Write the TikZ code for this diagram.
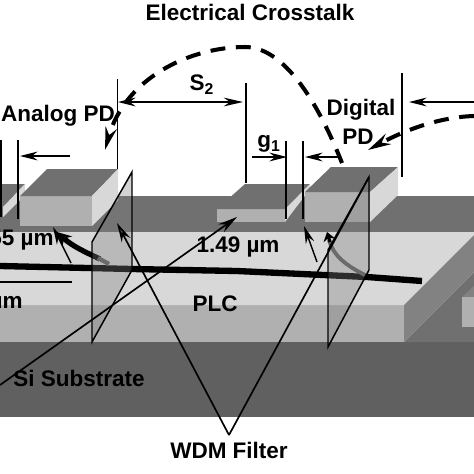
\documentclass[tikz,border=0pt]{standalone}
\usepackage{fontspec}
\setmainfont{Liberation Sans}
\usetikzlibrary{positioning,arrows.meta,calc}
\definecolor{subgray}{RGB}{96, 96, 96}
\definecolor{frontgray}{RGB}{176, 176, 176}
\definecolor{topgray}{RGB}{216, 216, 216}
\definecolor{bandgray}{RGB}{112, 112, 112}
\definecolor{sidegray}{RGB}{130, 130, 130}
\tikzset{
  label/.style={font=\bfseries\fontsize{12.8}{15}\selectfont, inner sep=0pt},
  dimline/.style={line width=0.8pt},
  dimarrow/.style={line width=0.8pt, -{Stealth[length=10pt,width=5pt]}},
  pointer/.style={line width=0.95pt},
  crosstalk/.style={line width=2.3pt, dash pattern=on 8.5pt off 6pt, -{Stealth[length=13pt,width=6.5pt]}},
  filterplane/.style={fill=gray, fill opacity=0.35},
}
\begin{document}
\begin{tikzpicture}[x=0.02cm, y=-0.02cm]
    \useasboundingbox (0,0) rectangle (474,474);

    % substrate and PLC
    \fill[subgray] (0,342) rectangle (474,417);
    \fill[frontgray] (0,305) rectangle (404,342);
    \fill[topgray] (0,232) -- (474,232) -- (474,235) -- (404,305) -- (0,305) -- cycle;
    \fill[bandgray] (0,196) rectangle (474,232);
    \fill[bandgray] (404,342) -- (474,272) -- (474,342) -- cycle;
    \fill[sidegray] (404,305) -- (474,235) -- (474,272) -- (404,342) -- cycle;
    \fill[sidegray] (462,297) -- (474,286) -- (474,297) -- cycle;
    \fill[frontgray] (462,297) rectangle (474,327);

    % left pad
    \fill[bandgray] (0,184) -- (25,184) -- (3,207) -- (0,207) -- cycle;
    \fill[topgray] (25,184) -- (25,195) -- (3,217) -- (3,207) -- cycle;
    % analog PD
    \fill[frontgray] (20,196) rectangle (92,226);
    \fill[bandgray] (20,196) -- (47,169) -- (118,169) -- (92,196) -- cycle;
    \fill[topgray] (92,196) -- (118,169) -- (118,200) -- (92,226) -- cycle;
    % middle pad
    \fill[frontgray] (217,209) rectangle (285,222);
    \fill[bandgray] (217,209) -- (245,184) -- (310,184) -- (285,209) -- cycle;
    \fill[topgray] (285,209) -- (310,184) -- (310,189) -- (285,222) -- cycle;
    % digital PD
    \fill[frontgray] (305,192) rectangle (370,222);
    \fill[bandgray] (305,192) -- (331,167) -- (398,167) -- (370,192) -- cycle;
    \fill[topgray] (370,192) -- (398,167) -- (398,195) -- (370,222) -- cycle;

    % waveguide
    \draw[line width=3.6pt] (0,266) -- (132,269) -- (237,271) -- (367,277) -- (422,281);
    \draw[line width=3pt, -{Stealth[length=8pt,width=8pt]}] (100,259) .. controls (85,252) and (72,246) .. (57,232);
    \draw[line width=2.4pt, subgray] (98,258) -- (109,264);
    \draw[line width=2.2pt, subgray] (365,275) .. controls (345,265) and (333,255) .. (329,240);
    \draw[line width=1.8pt, -{Stealth[length=5pt,width=7pt]}] (330,242) -- (327,232);
    \draw[dimarrow] (317,262) -- (304,226);
    \draw[dimarrow] (71,263) -- (53,227);
    \draw[line width=0.85pt] (0,282) -- (72,282);

    % filters
    \coordinate (lefttop) at (132,172);
    \coordinate (righttop) at (369,177);
    \coordinate (apex) at (229,435);
    \filldraw[filterplane, line width=0.85pt, draw=black, draw opacity=1] (lefttop) -- (92,242) -- (92,342) -- (132,270) -- cycle;
    \filldraw[filterplane, line width=0.85pt, draw=black, draw opacity=1] (righttop) -- (328,250) -- (328,347) -- (369,270) -- cycle;
    \draw[pointer] (righttop) -- (apex);
    \draw[pointer, -{Stealth[length=11pt,width=5.5pt,fill=subgray]}] (apex) -- (117,223);

    % dimension lines
    \draw[dimline, line width=1.1pt] (1,140) -- (1,217);
    \draw[dimline] (18,140) -- (18,219);
    \draw[dimarrow] (70,156) -- (20,156);
    \draw[dimline] (117.5,79) -- (117.5,169);
    \draw[dimline] (246,83) -- (246,183);
    \draw[dimarrow, {Stealth[length=10pt,width=5pt]}-{Stealth[length=11pt,width=5pt]}] (118,102) -- (243,102);
    \draw[dimline] (286,141) -- (286,219);
    \draw[dimline] (303,141) -- (303,219);
    \draw[dimarrow] (252,157) -- (287,157);
    \draw[dimarrow] (339,157) -- (305,157);
    \draw[dimline] (402,73) -- (402,177);
    \draw[dimarrow] (474,102) -- (409,102);

    % crosstalk
    \draw[crosstalk] (342,163) .. controls (325,120) and (290,47) .. (245,47) .. controls (190,47) and (125,78) .. (105,150);
    \draw[crosstalk] (474,116) .. controls (440,117) and (405,130) .. (368,150);

    % labels
    \node[label] (title) at (250,12) {Electrical Crosstalk};
    \node[label] (analog) at (58,116) {Analog PD};
    \node[label] (digital) at (361,110) {Digital};
    \node[label] (digitalpd) at (358,137) {PD};
    \node[label] (stwo) at (202,85) {S\textsubscript{2}};
    \node[label] (gone) at (269,144) {g\textsubscript{1}};
    \node[label, anchor=east] (shortwl) at (54,240) {55 µm};
    \node[label] (longwl) at (238,247) {1.49 µm};
    \node[label, anchor=east] (lowwl) at (23,305) {µm};
    \node[label] (plc) at (215,304) {PLC};
    \node[label] (si) at (79,378) {Si Substrate};
    \node[label] (wdm) at (229,450) {WDM Filter};

    \coordinate (sileft) at (0,385);
    \draw[pointer, -{Stealth[length=11pt,width=5.5pt]}] (sileft) -- (237,217);
\end{tikzpicture}
\end{document}
